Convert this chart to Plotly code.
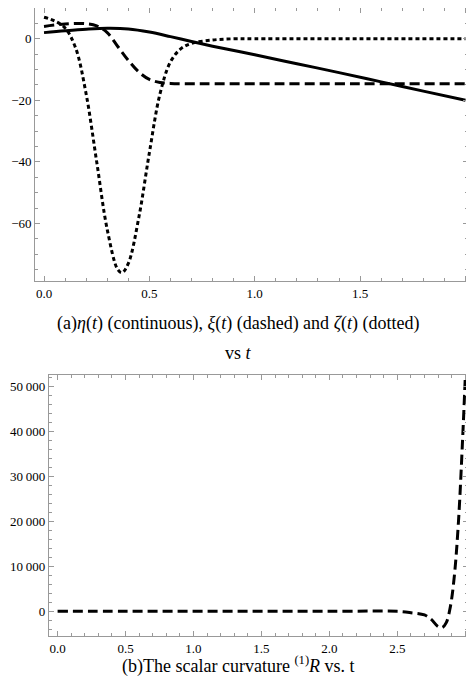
import plotly.graph_objects as go

# panel (a)
t_eta = [0.0, 0.1, 0.2, 0.3, 0.4, 0.5, 0.6, 0.7, 0.8, 1.0, 1.2, 1.4, 1.6, 1.8, 2.0]
eta = [2.0, 2.6, 3.1, 3.4, 3.2, 2.2, 0.7, -0.9, -2.4, -5.2, -8.1, -11.0, -14.0, -17.0, -20.0]
t_xi = [0.0, 0.1, 0.2, 0.25, 0.3, 0.35, 0.4, 0.45, 0.5, 0.55, 0.6, 0.7, 0.8, 1.0, 1.5, 2.0]
xi = [4.0, 4.8, 4.9, 4.2, 2.0, -2.5, -7.0, -10.8, -13.2, -14.2, -14.5, -14.6, -14.6, -14.6, -14.6, -14.6]
t_zeta = [0.0, 0.05, 0.1, 0.15, 0.2, 0.25, 0.3, 0.35, 0.37, 0.4, 0.45, 0.5, 0.55, 0.6, 0.65, 0.7, 0.8, 0.9, 1.0, 1.5, 2.0]
zeta = [7.0, 5.8, 3.5, -3.0, -18.0, -40.0, -62.0, -75.0, -76.0, -73.0, -58.0, -37.0, -18.0, -7.5, -3.2, -1.5, -0.4, 0.0, 0.0, 0.0, 0.0]

# panel (b)
t_r = [0.0, 0.5, 1.0, 1.5, 2.0, 2.5, 2.6, 2.7, 2.75, 2.8, 2.83, 2.86, 2.89, 2.92, 2.95, 2.98, 3.0]
r = [0, 0, 0, 0, 0, 0, -300, -800, -1800, -3400, -3600, -2500, 1000, 8000, 20000, 38000, 52000]

r_ticks = [0, 10000, 20000, 30000, 40000, 50000]
r_ticktext = ["0", "10\u2009000", "20\u2009000", "30\u2009000", "40\u2009000", "50\u2009000"]

fig = go.Figure()
line_style = dict(color="black", width=3, shape="spline")
fig.add_trace(go.Scatter(x=t_eta, y=eta, mode="lines", line=dict(**line_style, dash="solid")))
fig.add_trace(go.Scatter(x=t_xi, y=xi, mode="lines", line=dict(**line_style, dash="10px,5px")))
fig.add_trace(go.Scatter(x=t_zeta, y=zeta, mode="lines", line=dict(**line_style, dash="4px,3px")))
fig.add_trace(go.Scatter(x=t_r, y=r, mode="lines", line=dict(**line_style, dash="10px,5px"),
                         xaxis="x2", yaxis="y2"))

axis_style = dict(showgrid=False, zeroline=False, showline=True, linecolor="#999999",
                  mirror="ticks", ticks="inside", ticklen=5, tickcolor="#999999",
                  minor=dict(ticks="inside", ticklen=3, tickcolor="#999999"),
                  tickfont=dict(family="Liberation Serif", size=13, color="black"))

fig.update_layout(
    width=460, height=684, margin=dict(l=0, r=0, t=0, b=0),
    plot_bgcolor="white", paper_bgcolor="white", showlegend=False,
    font=dict(family="Liberation Serif", color="black"),
    xaxis=dict(axis_style, domain=[28 / 474, 1], range=[-0.042, 2.012],
               tickvals=[0, 0.5, 1.0, 1.5, 2.0], ticktext=["0.0", "0.5", "1.0", "1.5", "2.0"],
               minor=dict(axis_style["minor"], dtick=0.1), anchor="y"),
    yaxis=dict(axis_style, domain=[(689 - 275) / 689, 1], range=[-78.7, 10],
               tickvals=[0, -20, -40, -60], ticktext=["0", "\u221220", "\u221240", "\u221260"],
               minor=dict(axis_style["minor"], dtick=5), anchor="x"),
    xaxis2=dict(axis_style, domain=[42 / 474, 1], range=[-0.065, 3.02],
                tickvals=[0, 0.5, 1.0, 1.5, 2.0, 2.5, 3.0],
                ticktext=["0.0", "0.5", "1.0", "1.5", "2.0", "2.5", "3.0"],
                minor=dict(axis_style["minor"], dtick=0.1), anchor="y2"),
    yaxis2=dict(axis_style, domain=[(689 - 633) / 689, (689 - 370) / 689], range=[-5560, 52400],
                tickvals=r_ticks, ticktext=r_ticktext,
                minor=dict(axis_style["minor"], dtick=2000), anchor="x2"),
)

fig.add_annotation(xref="paper", yref="paper", x=0.5, y=(689 - 318) / 689, showarrow=False,
                   text="(a)<i>η</i>(<i>t</i>) (continuous), <i>ξ</i>(<i>t</i>) (dashed) and <i>ζ</i>(<i>t</i>) (dotted)",
                   font=dict(size=18, family="Liberation Serif"))
fig.add_annotation(xref="paper", yref="paper", x=0.5, y=(689 - 348) / 689, showarrow=False,
                   text="vs <i>t</i>", font=dict(size=18, family="Liberation Serif"))
fig.add_annotation(xref="paper", yref="paper", x=0.5, y=(689 - 676) / 689, showarrow=False,
                   text="(b)The scalar curvature <sup>(1)</sup><i>R</i> vs. t",
                   font=dict(size=18, family="Liberation Serif"))

fig.write_html("out.html")
